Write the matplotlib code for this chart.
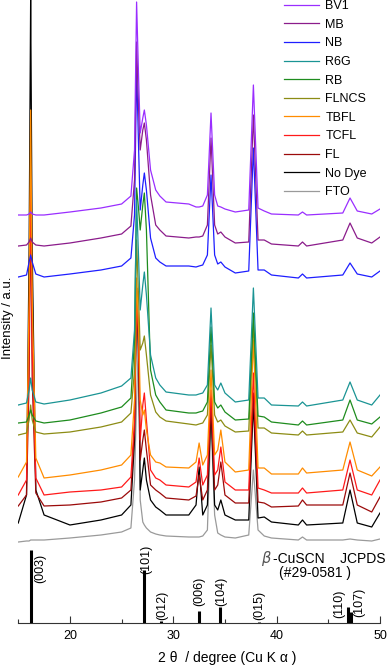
import numpy as np
import matplotlib
matplotlib.use("Agg")
import matplotlib.pyplot as plt

plt.rcParams['font.family'] = ['Liberation Sans', 'DejaVu Sans']

# common 2theta grid (degree) where the patterns were read
two_theta = [15.0, 15.8, 16.05, 16.2, 16.35, 16.7, 17.5, 20.0, 23.0, 25.0,
             25.9, 26.25, 26.45, 26.65, 26.8, 27.05, 27.2, 27.4, 27.8, 28.3,
             28.7, 29.3, 31.5, 32.2, 32.5, 32.85, 33.3, 33.65, 34.0, 34.3,
             34.6, 35.0, 36.0, 37.3, 37.75, 38.2, 38.8, 39.5, 42.1, 42.5,
             42.9, 46.4, 47.1, 47.8, 49.2, 50.0]

# stacked intensities (a.u., offsets included)
bv1 = [408, 408, 409, 411, 409, 408, 408, 411, 415, 419, 427, 473, 621, 543, 490, 505, 513, 498, 453, 433,
       427, 421, 419, 416, 416, 417, 428, 510, 428, 417, 416, 414, 411, 413, 538, 415, 412, 409, 408, 411,
       408, 410, 425, 412, 409, 414]
mb = [377, 378, 381, 385, 381, 378, 377, 380, 385, 389, 397, 443, 581, 513, 473, 493, 500, 483, 428, 398,
      393, 387, 385, 386, 386, 387, 398, 485, 398, 389, 391, 386, 380, 381, 508, 383, 383, 379, 377, 381,
      377, 383, 400, 385, 380, 386]
nb = [346, 348, 361, 368, 361, 349, 346, 349, 353, 357, 365, 408, 555, 473, 413, 438, 450, 433, 385, 365,
      361, 357, 357, 356, 357, 358, 368, 448, 368, 359, 361, 356, 350, 352, 475, 353, 353, 348, 345, 349,
      345, 348, 360, 349, 346, 352]
r6g = [218, 220, 233, 245, 233, 221, 219, 223, 230, 237, 245, 293, 423, 363, 313, 338, 351, 328, 268, 245,
       238, 231, 228, 228, 229, 230, 238, 315, 238, 233, 240, 230, 221, 223, 335, 225, 225, 218, 217, 221,
       217, 223, 241, 223, 218, 228]
rb = [200, 201, 208, 213, 208, 202, 200, 203, 210, 216, 225, 283, 435, 413, 393, 418, 430, 393, 253, 228,
      221, 213, 210, 210, 211, 212, 221, 296, 221, 215, 218, 211, 203, 204, 310, 207, 206, 201, 198, 202,
      198, 203, 223, 203, 199, 206]
flncs = [188, 190, 203, 218, 203, 191, 189, 191, 196, 201, 210, 253, 383, 323, 273, 280, 287, 268, 228, 211,
         206, 202, 199, 198, 199, 200, 208, 278, 208, 201, 203, 197, 191, 192, 300, 195, 195, 190, 188, 192,
         188, 191, 203, 190, 186, 196]
tbfl = [146, 161, 323, 513, 323, 165, 145, 148, 153, 158, 168, 223, 345, 293, 223, 208, 213, 193, 168, 161,
        160, 156, 155, 161, 180, 158, 168, 253, 168, 173, 193, 161, 151, 153, 283, 155, 155, 149, 149, 155,
        150, 153, 181, 153, 147, 156]
tcfl = [128, 143, 273, 443, 273, 145, 128, 131, 133, 136, 146, 203, 331, 283, 183, 218, 230, 203, 153, 145,
        143, 138, 136, 141, 165, 138, 148, 233, 148, 153, 176, 141, 133, 133, 250, 135, 133, 130, 130, 135,
        130, 133, 163, 133, 128, 143]
fl = [117, 128, 243, 423, 243, 130, 117, 118, 121, 125, 133, 193, 335, 273, 163, 183, 193, 173, 138, 133,
      130, 125, 123, 127, 148, 123, 133, 223, 133, 138, 161, 128, 120, 120, 230, 121, 120, 116, 117, 123,
      118, 118, 150, 118, 111, 126]
no_dye = [100, 128, 373, 625, 373, 133, 108, 98, 103, 108, 118, 183, 335, 263, 133, 153, 165, 143, 123, 116,
          113, 108, 108, 118, 156, 108, 118, 215, 118, 113, 123, 108, 103, 103, 220, 105, 106, 101, 98, 103,
          98, 100, 133, 100, 96, 110]
fto = [81, 82, 82, 83, 83, 83, 83, 85, 88, 91, 95, 143, 223, 293, 123, 101, 98, 95, 91, 89,
       88, 87, 86, 86, 86, 87, 93, 203, 108, 90, 88, 86, 85, 88, 153, 93, 87, 85, 83, 86,
       83, 83, 84, 83, 82, 84]

labels = ['BV1', 'MB', 'NB', 'R6G', 'RB', 'FLNCS', 'TBFL', 'TCFL', 'FL', 'No Dye', 'FTO']
patterns = [bv1, mb, nb, r6g, rb, flncs, tbfl, tcfl, fl, no_dye, fto]
colors = ['#9A2EFF', '#8B1C8B', '#1E1EFF', '#1A9494', '#1E8C1E', '#8C8C14',
          '#FF8C00', '#FF1A1A', '#9B0A0A', '#000000', '#9A9A9A']

# JCPDS #29-0581 beta-CuSCN reference lines
ref_hkl = ['(003)', '(101)', '(012)', '(006)', '(104)', '(015)', '(110)', '(107)']
ref_pos = [16.2, 27.15, 28.8, 32.5, 34.5, 38.25, 46.95, 47.15]
ref_int = [73, 53, 2, 12, 16, 1.5, 16, 11]

fig = plt.figure(figsize=(3.88, 6.67), dpi=100)
ax = fig.add_axes([18.25 / 388, 44 / 667, 361.75 / 388, 623 / 667])

lines = []
for lab, y, c in zip(labels, patterns, colors):
    ln, = ax.plot(two_theta, y, color=c, lw=0.9, label=lab)
    lines.append(ln)
# draw lower curves first so the upper ones sit on top
for i, ln in enumerate(lines):
    ln.set_zorder(3 + len(lines) - i)

ax.vlines(ref_pos, 0, ref_int, color='black', lw=2.2, zorder=20)

lab_pos = [(17.1, 55), (27.4, 64), (28.9, 17.5), (32.5, 32), (34.6, 32),
           (38.35, 18), (46.1, 19.5), (48.0, 21)]
for t, (px, py) in zip(ref_hkl, lab_pos):
    ax.text(px, py, t, rotation=90, ha='center', va='center', fontsize=9)

ax.text(39.05, 64, r'$\beta$', fontsize=10.5, ha='center', va='center', color='#555555')
ax.text(39.6, 64, '-CuSCN    JCPDS', fontsize=10, ha='left', va='center', clip_on=False)
ax.text(43.7, 50, '(#29-0581 )', fontsize=10, ha='center', va='center')

ax.set_xlim(15, 50)
ax.set_ylim(0, 623)
for s in ['left', 'right', 'top']:
    ax.spines[s].set_visible(False)
ax.spines['bottom'].set_linewidth(0.8)
ax.spines['bottom'].set_color('#333333')
ax.set_yticks([])
ax.set_xticks([20, 30, 40, 50])
ax.set_xticks([15, 25, 35, 45], minor=True)
ax.tick_params(axis='x', which='major', direction='in', length=5, width=0.8,
               pad=5, labelsize=9, color='#333333')
ax.tick_params(axis='x', which='minor', direction='in', length=3, width=0.8, color='#333333')

fig.text(0.586, 0.0135, '2 θ  / degree (Cu K α )', ha='center', va='center', fontsize=10)
fig.text(0.021, 0.523, 'Intensity / a.u.', rotation=90, ha='center', va='center', fontsize=9.5)

fig.legend(handles=lines, loc='upper left', bbox_to_anchor=(284 / 388, 1.0),
           frameon=False, fontsize=9, handlelength=2.8, handletextpad=0.5,
           labelspacing=0.53, borderpad=0.0, borderaxespad=0.0)

fig.savefig('out.png', dpi=100)
